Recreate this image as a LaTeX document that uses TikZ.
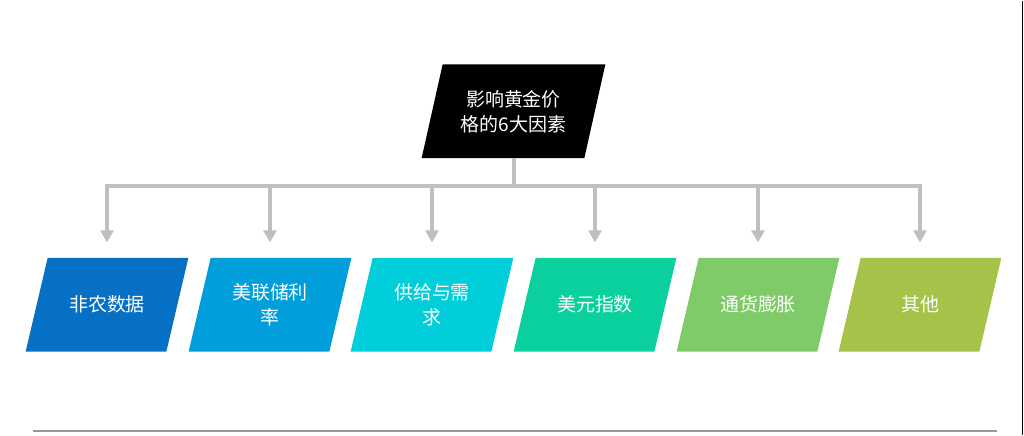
\documentclass[tikz,border=0pt]{standalone}
\usepackage{fontspec}
\newfontfamily\cjk{Noto Sans CJK SC}
\usetikzlibrary{arrows.meta, calc, backgrounds}

\definecolor{boxA}{RGB}{5,112,196}
\definecolor{boxB}{RGB}{0,158,219}
\definecolor{boxC}{RGB}{0,206,218}
\definecolor{boxD}{RGB}{10,208,158}
\definecolor{boxE}{RGB}{126,203,103}
\definecolor{boxF}{RGB}{166,194,72}
\definecolor{linkgray}{RGB}{191,191,191}

\begin{document}
\begin{tikzpicture}[font=\cjk\fontsize{10.8}{14.2}\selectfont]

        % Setup the styles for the boxes and links
        \tikzset{para/.style={rectangle,
                              minimum width=2.8cm,
                              minimum height=1.86cm,
                              inner sep=0pt,
                              align=center,
                              text=white},
                 link/.style={draw=linkgray,
                              line width=0.08cm},
                 arrow/.style={link,
                               -{Triangle[width=0.26cm,length=0.24cm]},
                               shorten >=0.31cm}}

        % Draw the boxes
        \node[para, minimum width=3.24cm] at (10.27, 6.47) (top) {影响黄金价\\格的6大因素};

        \node[para] at (2.14, 2.6)  (nfp)   {非农数据};
        \node[para] at (5.40, 2.6)  (fed)   {美联储利\\率};
        \node[para] at (8.64, 2.6)  (sup)   {供给与需\\求};
        \node[para] at (11.90, 2.6) (usd)   {美元指数};
        \node[para] at (15.16, 2.6) (infl)  {通货膨胀};
        \node[para] at (18.40, 2.6) (other) {其他};

        % Page and slanted fills behind the texts
        \begin{scope}[on background layer]
            \fill[white] (0,0) rectangle (20.48,8.68);
            \draw[line width=0.03cm] (20.45,0) -- (20.45,8.68);
            \foreach \b/\c/\s in {top/black/0.21, nfp/boxA/0.22, fed/boxB/0.22,
                                  sup/boxC/0.22, usd/boxD/0.22, infl/boxE/0.22,
                                  other/boxF/0.22}
                \fill[\c] ($(\b.north west)+(\s,0)$) -- ($(\b.north east)+(\s,0)$)
                       -- ($(\b.south east)-(\s,0)$) -- ($(\b.south west)-(\s,0)$) -- cycle;
        \end{scope}

        % Connect the boxes
        \coordinate (bus) at ($(top.center |- 0,4.98)$);
        \draw[link] (top.south) -- (bus);
        \foreach \b in {nfp, fed, sup, usd, infl, other}
            \draw[arrow] (bus) -| (\b.north);

        % Bottom rule
        \draw[gray!80, line width=0.03cm] (0.66,0.08) -- (19.94,0.08);
    \end{tikzpicture}
\end{document}
